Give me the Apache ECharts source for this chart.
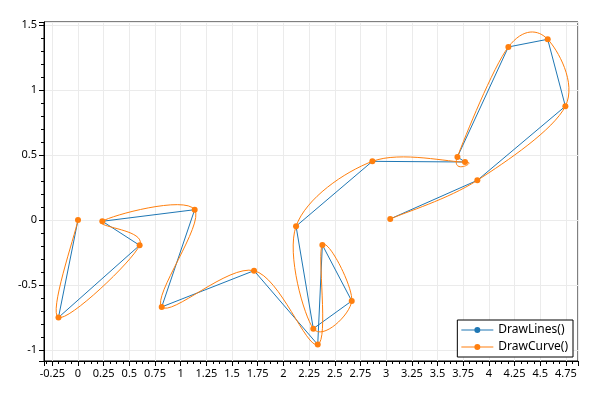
<!DOCTYPE html>
<html>
<head>
<meta charset="utf-8">
<script src="https://cdn.jsdelivr.net/npm/echarts@6/dist/echarts.min.js"></script>
<style>
html,body{margin:0;padding:0;background:#fff;}
#chart{width:600px;height:400px;}
</style>
</head>
<body>
<div id="chart"></div>
<script>
// Path points (drawn in order)
const xValues = [0.0, -0.19, 0.60, 0.237, 1.136, 0.815, 1.714, 2.334, 2.379, 2.665, 2.291, 2.123, 2.866, 3.768, 3.694, 4.19, 4.573, 4.745, 3.888, 3.04];
const yValues = [0.0, -0.75, -0.195, -0.01, 0.079, -0.669, -0.39, -0.959, -0.192, -0.623, -0.836, -0.048, 0.451, 0.446, 0.485, 1.331, 1.39, 0.875, 0.305, 0.008];
const seriesNames = ['DrawLines()', 'DrawCurve()'];
const seriesColors = ['#1f77b4', '#ff7f0e'];
const curveTension = 0.5;

const points = xValues.map((x, i) => [x, yValues[i]]);
const font = 'Noto Sans';
const legendIcon = 'path://M0,3.5L13.2,3.5L13.2,4.5L0,4.5Z M18.8,3.5L32,3.5L32,4.5L18.8,4.5Z M13,4A3,3 0 1,1 19,4A3,3 0 1,1 13,4Z';

function renderCurve(params, api) {
  const i = params.dataIndex;
  const n = points.length;
  const P = k => api.coord(points[Math.max(0, Math.min(n - 1, k))]);
  const p0 = P(i - 1), p1 = P(i), p2 = P(i + 1), p3 = P(i + 2);
  const children = [];
  if (i < n - 1) {
    const f = curveTension / 3;
    children.push({
      type: 'bezierCurve', silent: true,
      shape: {
        x1: p1[0], y1: p1[1],
        cpx1: p1[0] + (p2[0] - p0[0]) * f, cpy1: p1[1] + (p2[1] - p0[1]) * f,
        cpx2: p2[0] - (p3[0] - p1[0]) * f, cpy2: p2[1] - (p3[1] - p1[1]) * f,
        x2: p2[0], y2: p2[1]
      },
      style: { stroke: seriesColors[1], lineWidth: 1, fill: null }
    });
  }
  children.push({
    type: 'circle', z2: 10, silent: true,
    shape: { cx: p1[0], cy: p1[1], r: 3 },
    style: { fill: seriesColors[1], stroke: null }
  });
  return { type: 'group', children: children };
}

const chart = echarts.init(document.getElementById('chart'));
chart.setOption({
  animation: false,
  backgroundColor: '#fff',
  textStyle: { fontFamily: font },
  grid: { left: 44, right: 22, top: 22, bottom: 39, show: true, borderColor: '#000', borderWidth: 1, backgroundColor: 'transparent' },
  legend: {
    orient: 'vertical', right: 27, bottom: 43,
    backgroundColor: '#fff', borderColor: '#000', borderWidth: 1,
    padding: [4, 5, 4, 4], itemGap: 5, itemWidth: 32, itemHeight: 8,
    textStyle: { fontSize: 12, color: '#000', fontFamily: font },
    data: [
      { name: seriesNames[0], icon: legendIcon, itemStyle: { color: seriesColors[0] } },
      { name: seriesNames[1], icon: legendIcon, itemStyle: { color: seriesColors[1] } }
    ]
  },
  xAxis: {
    type: 'value', min: -0.331, max: 4.868, minInterval: 0.25, maxInterval: 0.25,
    axisLine: { onZero: false, lineStyle: { color: '#000' } },
    axisTick: { show: true, length: 5, lineStyle: { color: '#000' } },
    minorTick: { show: true, splitNumber: 4, length: 3, lineStyle: { color: '#000' } },
    splitLine: { show: true, lineStyle: { color: '#ebebeb' } },
    axisLabel: { color: '#000', fontSize: 11, margin: 7, showMinLabel: false, showMaxLabel: false, fontFamily: font }
  },
  yAxis: {
    type: 'value', min: -1.085, max: 1.523, minInterval: 0.5, maxInterval: 0.5,
    axisLine: { show: true, onZero: false, lineStyle: { color: '#000' } },
    axisTick: { show: true, length: 5, lineStyle: { color: '#000' } },
    minorTick: { show: true, splitNumber: 5, length: 3, lineStyle: { color: '#000' } },
    splitLine: { show: true, lineStyle: { color: '#ebebeb' } },
    axisLabel: { color: '#000', fontSize: 11, margin: 7, showMinLabel: false, showMaxLabel: false, fontFamily: font }
  },
  series: [
    {
      name: seriesNames[0], type: 'line', data: points, color: seriesColors[0],
      symbol: 'none', z: 2,
      lineStyle: { width: 1, color: seriesColors[0] }, itemStyle: { color: seriesColors[0] }
    },
    {
      name: seriesNames[1], type: 'custom', data: points, z: 3,
      color: seriesColors[1], itemStyle: { color: seriesColors[1] },
      encode: { x: 0, y: 1 },
      renderItem: renderCurve
    }
  ]
});
</script>
</body>
</html>
